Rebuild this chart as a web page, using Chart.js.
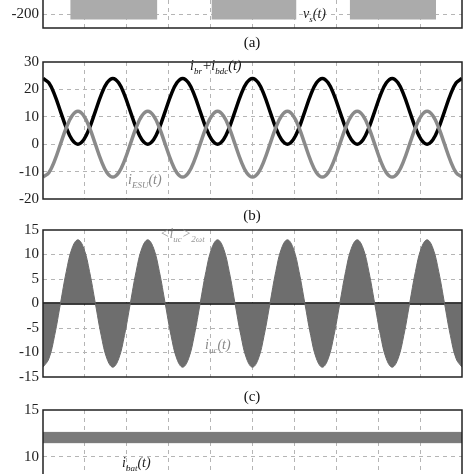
<!DOCTYPE html>
<html><head><meta charset="utf-8">
<script src="https://cdn.jsdelivr.net/npm/chart.js@4.4.1/dist/chart.umd.min.js"></script>
<style>
body{margin:0;width:474px;height:474px;overflow:hidden;background:#fff;position:relative;font-family:"Liberation Serif",serif}
.p{position:absolute;left:0}
.cap{position:absolute;left:236px;width:32px;text-align:center;font-size:15px;color:#111}
.lab{position:absolute;font-style:italic;font-size:14px;white-space:nowrap}
.lab sub{font-size:9px}
</style></head><body>
<div class="p" style="top:-125px;width:470px;height:166px"><canvas id="ca"></canvas></div>
<div class="p" style="top:49px;width:470px;height:163px"><canvas id="cb"></canvas></div>
<div class="p" style="top:217px;width:470px;height:173px"><canvas id="cc"></canvas></div>
<div class="p" style="top:397px;width:470px;height:166px"><canvas id="cd"></canvas></div>
<div class="cap" style="top:34px">(a)</div>
<div class="cap" style="top:207px">(b)</div>
<div class="cap" style="top:388px">(c)</div>
<div class="lab" style="left:303px;top:6px;color:#222">v<sub>s</sub>(t)</div>
<div class="lab" style="left:190px;top:58px;color:#111">i<sub>br</sub>+i<sub>bdc</sub>(t)</div>
<div class="lab" style="left:128px;top:172px;color:#888">i<sub>ESU</sub>(t)</div>
<div class="lab" style="left:160px;top:226px;color:#999">&lt;i<sub>uc</sub>&gt;<sub>2ωt</sub></div>
<div class="lab" style="left:205px;top:337px;color:#888">i<sub>uc</sub>(t)</div>
<div class="lab" style="left:122px;top:455px;color:#222">i<sub>bat</sub>(t)</div>
<script>
// panel (a): switching blocks of v_s(t), start/end in fraction of the time axis
const vsBlocks = [[0.065, 0.273], [0.402, 0.605], [0.732, 0.938]];
const vsLow = -220;
const vsTicks = [-200, 0, 200];

// panel (b) samples, step = 1/72 of the axis
const tStep = 1 / 72;
const iBrBdc = [24,22.4,18,12,6,1.6,0,1.6,6,12,18,22.4, 24,22.4,18,12,6,1.6,0,1.6,6,12,18,22.4,
  24,22.4,18,12,6,1.6,0,1.6,6,12,18,22.4, 24,22.4,18,12,6,1.6,0,1.6,6,12,18,22.4,
  24,22.4,18,12,6,1.6,0,1.6,6,12,18,22.4, 24,22.4,18,12,6,1.6,0,1.6,6,12,18,22.4, 24];
const iEsu = [-12,-10.4,-6,0,6,10.4,12,10.4,6,0,-6,-10.4, -12,-10.4,-6,0,6,10.4,12,10.4,6,0,-6,-10.4,
  -12,-10.4,-6,0,6,10.4,12,10.4,6,0,-6,-10.4, -12,-10.4,-6,0,6,10.4,12,10.4,6,0,-6,-10.4,
  -12,-10.4,-6,0,6,10.4,12,10.4,6,0,-6,-10.4, -12,-10.4,-6,0,6,10.4,12,10.4,6,0,-6,-10.4, -12];
// panel (c) envelope of i_uc(t)
const iUc = [-13,-11.3,-6.5,0,6.5,11.3,13,11.3,6.5,0,-6.5,-11.3, -13,-11.3,-6.5,0,6.5,11.3,13,11.3,6.5,0,-6.5,-11.3,
  -13,-11.3,-6.5,0,6.5,11.3,13,11.3,6.5,0,-6.5,-11.3, -13,-11.3,-6.5,0,6.5,11.3,13,11.3,6.5,0,-6.5,-11.3,
  -13,-11.3,-6.5,0,6.5,11.3,13,11.3,6.5,0,-6.5,-11.3, -13,-11.3,-6.5,0,6.5,11.3,13,11.3,6.5,0,-6.5,-11.3, -13];
const iUcAvg = [0, 0];
// panel (d) i_bat band
const iBatHigh = 12.6, iBatLow = 11.5;

const pts = arr => arr.map((y, i) => ({ x: i * tStep, y }));
const font = { family: "Liberation Serif", size: 15 };
const hideEdge = c => c.tick && (c.tick.value === c.scale.min || c.tick.value === c.scale.max) ? "rgba(0,0,0,0)" : "#b5b5b5";

function opts(min, max, step, fixedTicks) {
  return {
    animation: false, responsive: true, maintainAspectRatio: false,
    layout: { padding: { top: 8, bottom: 8, right: 8 } },
    plugins: { legend: { display: false }, tooltip: { enabled: false } },
    elements: { point: { radius: 0 } },
    scales: {
      x: { type: "linear", min: 0, max: 1,
        ticks: { display: false, stepSize: 0.1 },
        grid: { color: hideEdge, drawTicks: false },
        border: { display: false, dash: [4, 4] } },
      y: { min, max,
        afterFit: s => { s.width = 43; },
        afterBuildTicks: fixedTicks ? s => { s.ticks = fixedTicks.map(v => ({ value: v })); } : undefined,
        ticks: { stepSize: step, font, color: "#222", padding: 4 },
        grid: { color: hideEdge, drawTicks: false },
        border: { display: false, dash: [4, 4] } }
    }
  };
}
const framePlugin = {
  id: "frame",
  afterDraw(chart) {
    const a = chart.chartArea, c = chart.ctx;
    c.save(); c.strokeStyle = "#222"; c.lineWidth = 1.5;
    c.strokeRect(a.left, a.top, a.right - a.left, a.bottom - a.top); c.restore();
  }
};
function mk(id, datasets, o) {
  new Chart(document.getElementById(id), { type: "line", data: { datasets }, options: o, plugins: [framePlugin] });
}

// (a)
mk("ca", vsBlocks.map(b => ({ data: [{ x: b[0], y: vsLow }, { x: b[1], y: vsLow }],
  borderWidth: 0, fill: "end", backgroundColor: "#ababab" })), opts(-250, 250, 200, vsTicks));
// (b)
mk("cb", [
  { data: pts(iEsu), borderColor: "#8a8a8a", borderWidth: 3.5, tension: 0.4 },
  { data: pts(iBrBdc), borderColor: "#000", borderWidth: 3.5, tension: 0.4 }
], opts(-20, 30, 10));
// (c)
mk("cc", [
  { data: pts(iUc), borderColor: "#6a6a6a", borderWidth: 1, tension: 0.4, fill: "origin", backgroundColor: "#6e6e6e" },
  { data: [{ x: 0, y: iUcAvg[0] }, { x: 1, y: iUcAvg[1] }], borderColor: "#000", borderWidth: 2.5 }
], opts(-15, 15, 5));
// (d)
mk("cd", [
  { data: [{ x: 0, y: iBatLow }, { x: 1, y: iBatLow }], borderColor: "#777", borderWidth: 1 },
  { data: [{ x: 0, y: iBatHigh }, { x: 1, y: iBatHigh }], borderColor: "#777", borderWidth: 1, fill: "-1", backgroundColor: "#7a7a7a" }
], opts(0, 15, 5));
</script></body></html>
